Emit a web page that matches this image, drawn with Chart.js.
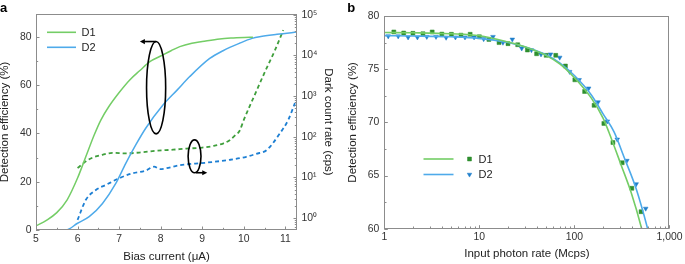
<!DOCTYPE html>
<html>
<head>
<meta charset="utf-8">
<script src="https://cdn.jsdelivr.net/npm/chart.js"></script>
<style>
  html, body { margin: 0; padding: 0; background: #fff; }
  #wrap { position: relative; width: 685px; height: 264px; overflow: hidden; }
  #ca { position: absolute; left: 0; top: 0; }
  #cb { position: absolute; left: 340px; top: 0; }
</style>
</head>
<body>
<div id="wrap">
  <canvas id="ca" width="340" height="264"></canvas>
  <canvas id="cb" width="345" height="264"></canvas>
</div>
<script>
// ---- panel a : efficiency and dark counts vs bias current ----
const d1EffBias = [5.0, 5.25, 5.5, 5.75, 6.0, 6.2, 6.4, 6.56, 6.75, 7.02, 7.25, 7.5, 7.74, 8.0, 8.25, 8.46, 8.75, 9.0, 9.42, 9.75, 10.14, 10.22];
const d1Eff     = [1.7, 4, 7.2, 12.5, 21.5, 30.4, 39.3, 45.5, 51, 57.3, 62, 66, 69.7, 72, 74.2, 75.9, 77.3, 78, 79.1, 79.5, 79.8, 79.8];
const d2EffBias = [5.28, 5.72, 6.0, 6.28, 6.6, 6.92, 7.16, 7.4, 7.64, 8.06, 8.4, 8.7, 9.18, 9.5, 9.9, 10.2, 10.38, 10.8, 11.32];
const d2Eff     = [0, 0, 2.8, 5.5, 11, 19.3, 27.6, 35.2, 42.1, 51.8, 58, 63.5, 71, 74.2, 77.3, 79.3, 80, 81, 82];

const d1DarkBias = [6.0, 6.28, 6.6, 6.84, 7.16, 7.56, 7.88, 8.3, 8.62, 9.0, 9.26, 9.5, 9.66, 9.8, 9.9, 10.0, 10.25, 10.5, 10.75, 10.95];
const d1Dark     = [17, 28, 36, 40, 39, 41.5, 45, 48, 51, 54, 59, 68, 82, 110, 140, 260, 1000, 3800, 13500, 42000];
const d2DarkBias = [6.0, 6.2, 6.44, 6.68, 7.0, 7.32, 7.64, 7.84, 7.98, 8.46, 9.1, 9.66, 10.06, 10.3, 10.55, 10.87, 11.07, 11.23];
const d2Dark     = [0.9, 2.8, 4.9, 6.5, 9.5, 12.6, 14.7, 18.3, 16, 20, 23, 27, 32, 38, 47, 122, 260, 670];

const biasTicks = [5, 5.5, 6, 6.5, 7, 7.5, 8, 8.5, 9, 9.5, 10, 10.5, 11];
const effTicks = [0, 10, 20, 30, 40, 50, 60, 70, 80];

// ---- panel b : efficiency vs input photon rate ----
const d1Rate = [1.26, 1.6, 2.0, 2.55, 3.19, 4.03, 5.08, 6.4, 8.0, 10, 12.6, 16.1, 20, 25.3, 32, 40, 50.4, 63.6, 80.4, 101, 128, 161, 204, 254, 318, 402, 502];
const d1Meas = [78.5, 78.4, 78.37, 78.34, 78.5, 78.3, 78.28, 78.2, 78.28, 78.05, 77.8, 77.5, 77.4, 77.3, 76.8, 76.45, 76.3, 76.3, 75.3, 74.0, 72.9, 71.6, 69.9, 68.1, 66.2, 63.8, 61.6];
const d2Rate = [1.1, 1.4, 1.78, 2.23, 2.8, 3.5, 4.47, 5.6, 7.06, 8.8, 11.1, 13.9, 17.7, 22.2, 27.9, 35.3, 44.5, 56, 70, 89, 112, 141, 177, 222, 282, 356, 446, 562];
const d2Meas = [78.1, 78.1, 78.0, 78.0, 78.05, 78.05, 77.97, 78.0, 78.0, 78.0, 77.84, 78.05, 77.5, 77.8, 76.96, 76.8, 76.4, 76.4, 76.1, 74.76, 74.0, 73.2, 71.9, 70.1, 68.4, 66.4, 64.2, 61.9];

const d1FitRate = [1, 2, 5, 10, 20, 30, 50, 70, 100, 150, 200, 230, 311, 395, 510, 560];
const d1Fit     = [78.45, 78.42, 78.33, 78.15, 77.55, 77.1, 76.3, 75.5, 74.2, 72.3, 70.4, 69.1, 65.95, 63.4, 60, 58.5];
const d2FitRate = [1, 2, 5, 10, 20, 30, 50, 70, 100, 150, 200, 261, 337, 446, 589, 640];
const d2Fit     = [78.15, 78.12, 78.05, 77.9, 77.5, 77.1, 76.35, 75.6, 74.4, 72.6, 70.8, 69.1, 66.6, 63.75, 60, 58.7];

const measTicks = [60, 62.5, 65, 67.5, 70, 72.5, 75, 77.5, 80];

// colours
const GREEN_LINE = '#74cd66';
const GREEN_DASH = '#3f9f3c';
const BLUE_LINE = '#4eaaea';
const BLUE_DASH = '#1d7fd3';
const GREEN_MARK = '#2f8f2f';
const BLUE_MARK = '#1f7fcb';
const AXIS = '#8c8c8c';

Chart.defaults.font.family = "'Liberation Sans', Arial, sans-serif";
Chart.defaults.color = '#333';

const SUP = { 0: '\u2070', 1: '\u00b9', 2: '\u00b2', 3: '\u00b3', 4: '\u2074', 5: '\u2075' };

function zip(xs, ys) {
    return xs.map((x, i) => ({ x: x, y: ys[i] }));
}

function isDecade(v) {
    const l = Math.log10(v);
    return Math.abs(l - Math.round(l)) < 1e-6;
}

// 1..9 x 10^e ticks for a log axis
function logTicks(lo, hi) {
    const out = [];
    for (let e = lo; e <= hi; e++) {
        for (let m = 1; m < 10; m++) out.push(m * Math.pow(10, e));
    }
    return out;
}

// box around plot area plus short inward tick marks
const frameTicks = {
    id: 'frameTicks',
    afterDraw(chart) {
        const ctx = chart.ctx, a = chart.chartArea;
        ctx.save();
        ctx.strokeStyle = AXIS;
        ctx.lineWidth = 1;
        ctx.strokeRect(Math.round(a.left) + 0.5, Math.round(a.top) + 0.5,
            Math.round(a.right - a.left) - 1, Math.round(a.bottom - a.top) - 1);
        Object.values(chart.scales).forEach(s => {
            s.ticks.forEach(t => {
                const len = t.label ? 3.5 : 2.2;
                const p = Math.round(s.getPixelForValue(t.value)) + 0.5;
                ctx.beginPath();
                if (s.position === 'left') { ctx.moveTo(a.left, p); ctx.lineTo(a.left + len, p); }
                else if (s.position === 'right') { ctx.moveTo(a.right, p); ctx.lineTo(a.right - len, p); }
                else { ctx.moveTo(p, a.bottom); ctx.lineTo(p, a.bottom - len); }
                ctx.stroke();
            });
        });
        ctx.restore();
    }
};

function panelLetter(letter, x) {
    return {
        id: 'letter' + letter,
        afterDraw(chart) {
            const ctx = chart.ctx;
            ctx.save();
            ctx.fillStyle = '#000';
            ctx.font = "bold 13px 'Liberation Sans', Arial, sans-serif";
            ctx.textBaseline = 'alphabetic';
            ctx.fillText(letter, x, 11.7);
            ctx.restore();
        }
    };
}

// the two loops with arrows pointing to the relevant axis
const loops = {
    id: 'loops',
    afterDatasetsDraw(chart) {
        const ctx = chart.ctx, sx = chart.scales.x, sy = chart.scales.y;
        const drawLoop = (x0, x1, y0, y1, ax0, ax1, ay) => {
            const l = sx.getPixelForValue(x0), r = sx.getPixelForValue(x1);
            const t = sy.getPixelForValue(y1), b = sy.getPixelForValue(y0);
            ctx.beginPath();
            ctx.ellipse((l + r) / 2, (t + b) / 2, (r - l) / 2, (b - t) / 2, 0, 0, Math.PI * 2);
            ctx.stroke();
            const px0 = sx.getPixelForValue(ax0), px1 = sx.getPixelForValue(ax1), py = sy.getPixelForValue(ay);
            const dir = Math.sign(px1 - px0);
            ctx.beginPath();
            ctx.moveTo(px0, py);
            ctx.lineTo(px1 - dir * 4, py);
            ctx.stroke();
            ctx.beginPath();
            ctx.moveTo(px1, py);
            ctx.lineTo(px1 - dir * 5, py - 2.6);
            ctx.lineTo(px1 - dir * 5, py + 2.6);
            ctx.closePath();
            ctx.fill();
        };
        ctx.save();
        ctx.strokeStyle = '#000';
        ctx.fillStyle = '#000';
        ctx.lineWidth = 1.6;
        drawLoop(7.66, 8.12, 39.8, 78, 7.89, 7.5, 78);
        drawLoop(8.66, 8.97, 23.7, 37.3, 8.85, 9.12, 23.7);
        ctx.restore();
    }
};

const legendA = {
    id: 'legendA',
    afterDraw(chart) {
        const ctx = chart.ctx;
        ctx.save();
        ctx.font = "11px 'Liberation Sans', Arial, sans-serif";
        ctx.textBaseline = 'middle';
        ctx.fillStyle = '#222';
        [['D1', GREEN_LINE, 32.3], ['D2', BLUE_LINE, 47.3]].forEach(([txt, col, y]) => {
            ctx.strokeStyle = col;
            ctx.lineWidth = 1.6;
            ctx.beginPath();
            ctx.moveTo(47, y);
            ctx.lineTo(76, y);
            ctx.stroke();
            ctx.fillText(txt, 81.5, y + 0.5);
        });
        ctx.restore();
    }
};

const legendB = {
    id: 'legendB',
    afterDraw(chart) {
        const ctx = chart.ctx;
        ctx.save();
        ctx.font = "11px 'Liberation Sans', Arial, sans-serif";
        ctx.textBaseline = 'middle';
        [['D1', GREEN_LINE, GREEN_MARK, 'rect', 0, 159], ['D2', BLUE_LINE, BLUE_MARK, 'triangle', 180, 174.5]]
            .forEach(([txt, lineCol, markCol, style, rot, y]) => {
                ctx.strokeStyle = lineCol;
                ctx.lineWidth = 1.6;
                ctx.beginPath();
                ctx.moveTo(83.5, y);
                ctx.lineTo(113.5, y);
                ctx.stroke();
                ctx.fillStyle = markCol;
                ctx.strokeStyle = markCol;
                ctx.lineWidth = 0.5;
                Chart.helpers.drawPoint(ctx, { pointStyle: style, rotation: rot, radius: style === 'rect' ? 2.8 : 2.6, borderWidth: 0.5 }, 129.5, y);
                ctx.fillStyle = '#222';
                ctx.fillText(txt, 138.5, y + 0.5);
            });
        ctx.restore();
    }
};

const tickFont = { size: 10.4 };
const titleFont = { size: 11.5, lineHeight: 1 };
const noGrid = { display: false, drawTicks: false };
const noBorder = { display: false };

new Chart(document.getElementById('ca'), {
    type: 'line',
    data: {
        datasets: [
            { label: 'D1', data: zip(d1EffBias, d1Eff), borderColor: GREEN_LINE, borderWidth: 1.5, yAxisID: 'y' },
            { label: 'D2', data: zip(d2EffBias, d2Eff), borderColor: BLUE_LINE, borderWidth: 1.5, yAxisID: 'y' },
            { label: 'D1 dark', data: zip(d1DarkBias, d1Dark), borderColor: GREEN_DASH, borderWidth: 1.8, borderDash: [4, 3], yAxisID: 'y2' },
            { label: 'D2 dark', data: zip(d2DarkBias, d2Dark), borderColor: BLUE_DASH, borderWidth: 1.8, borderDash: [4, 3], yAxisID: 'y2' }
        ]
    },
    options: {
        responsive: false,
        animation: false,
        devicePixelRatio: 1,
        layout: { padding: { top: 14, right: 0, bottom: 0, left: 0 } },
        elements: { point: { radius: 0 }, line: { cubicInterpolationMode: 'monotone', fill: false } },
        plugins: { legend: { display: false }, tooltip: { enabled: false } },
        scales: {
            x: {
                type: 'linear', position: 'bottom', min: 5, max: 11.28,
                grid: noGrid, border: noBorder,
                afterBuildTicks: s => { s.ticks = biasTicks.map(v => ({ value: v })); },
                afterFit: s => { s.height = 34; },
                ticks: { autoSkip: false, maxRotation: 0, padding: 3, font: tickFont,
                    callback: v => Number.isInteger(v) ? String(v) : '' },
                title: { display: true, text: 'Bias current (\u03bcA)', font: titleFont, color: '#222', padding: { top: 0, bottom: 1.3 } }
            },
            y: {
                type: 'linear', position: 'left', min: 0, max: 89.4,
                grid: noGrid, border: noBorder,
                afterBuildTicks: s => { s.ticks = effTicks.map(v => ({ value: v })); },
                afterFit: s => { s.width = 36; },
                ticks: { autoSkip: false, padding: 4.5, font: tickFont,
                    callback: v => v % 20 === 0 ? String(v) : '' },
                title: { display: true, text: 'Detection efficiency (%)', font: titleFont, color: '#222', padding: { top: -1, bottom: 0 } }
            },
            y2: {
                type: 'logarithmic', position: 'right', min: 0.506, max: 105000,
                grid: noGrid, border: noBorder,
                afterBuildTicks: s => {
                    s.ticks = logTicks(-1, 4).concat([1e5]).filter(v => v >= 0.506 && v <= 105000).map(v => ({ value: v }));
                },
                afterFit: s => { s.width = 43; },
                ticks: { autoSkip: false, padding: 4.5, font: tickFont,
                    callback: v => isDecade(v) ? '10' + SUP[Math.round(Math.log10(v))] : '' },
                title: { display: true, text: 'Dark count rate (cps)', font: titleFont, color: '#222', padding: { top: 6, bottom: 0 } }
            }
        }
    },
    plugins: [frameTicks, loops, legendA, panelLetter('a', 0)]
});

new Chart(document.getElementById('cb'), {
    type: 'line',
    data: {
        datasets: [
            { label: 'D1 fit', data: zip(d1FitRate, d1Fit), borderColor: GREEN_LINE, borderWidth: 1.6, pointRadius: 0 },
            { label: 'D2 fit', data: zip(d2FitRate, d2Fit), borderColor: BLUE_LINE, borderWidth: 1.6, pointRadius: 0 },
            { label: 'D1', data: zip(d1Rate, d1Meas), showLine: false, pointStyle: 'rect', pointRadius: 2.8,
              backgroundColor: GREEN_MARK, borderColor: GREEN_MARK, borderWidth: 0.5 },
            { label: 'D2', data: zip(d2Rate, d2Meas), showLine: false, pointStyle: 'triangle', rotation: 180, pointRadius: 2.7,
              backgroundColor: BLUE_MARK, borderColor: BLUE_MARK, borderWidth: 0.5 }
        ]
    },
    options: {
        responsive: false,
        animation: false,
        devicePixelRatio: 1,
        layout: { padding: { top: 16, right: 13, bottom: 0, left: 0 } },
        elements: { line: { cubicInterpolationMode: 'monotone', fill: false } },
        plugins: { legend: { display: false }, tooltip: { enabled: false } },
        scales: {
            x: {
                type: 'logarithmic', position: 'bottom', min: 1, max: 1000,
                grid: noGrid, border: noBorder,
                afterBuildTicks: s => { s.ticks = logTicks(0, 2).concat([1000]).map(v => ({ value: v })); },
                afterFit: s => { s.height = 35.3; },
                ticks: { autoSkip: false, maxRotation: 0, padding: 2.5, font: tickFont,
                    callback: v => isDecade(v) ? (v >= 1000 ? '1,000' : String(v)) : '' },
                title: { display: true, text: 'Input photon rate (Mcps)', font: titleFont, color: '#222', padding: { top: 0, bottom: 4.5 } }
            },
            y: {
                type: 'linear', position: 'left', min: 60, max: 80,
                grid: noGrid, border: noBorder,
                afterBuildTicks: s => { s.ticks = measTicks.map(v => ({ value: v })); },
                afterFit: s => { s.width = 44.3; },
                ticks: { autoSkip: false, padding: 5, font: tickFont,
                    callback: v => v % 5 === 0 ? String(v) : '' },
                title: { display: true, text: 'Detection efficiency (%)', font: titleFont, color: '#222', padding: { top: 7, bottom: 0 } }
            }
        }
    },
    plugins: [frameTicks, legendB, panelLetter('b', 7.3)]
});
</script>
</body>
</html>
